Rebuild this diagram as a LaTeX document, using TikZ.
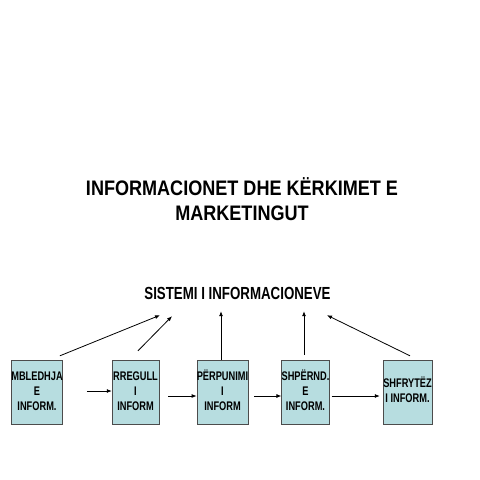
\documentclass[tikz,border=0pt]{standalone}
\usepackage{fontspec}
\setmainfont{Liberation Sans}
\usetikzlibrary{arrows.meta}
\newcommand{\narrowtext}[2]{\scalebox{#1}[1]{\begin{tabular}{@{}c@{}}#2\end{tabular}}}
\begin{document}
\begin{tikzpicture}[x=1pt, y=-1pt,
  infobox/.style = {draw = black!70, fill = boxcol, minimum width = 47pt, minimum height = 64pt, inner sep = 0pt, font = \fontsize{12.5}{15}\selectfont\bfseries},
  arr/.style = {-{Latex[length=5pt, width=4pt]}, line width = 0.8pt, black}]
\definecolor{boxcol}{HTML}{B7DDE0}
\useasboundingbox[fill = white] (0, 0) rectangle (480, 480);
\node[font = \fontsize{21}{25}\selectfont\bfseries] (title) at (242, 203) {\narrowtext{0.86}{INFORMACIONET DHE KËRKIMET E\\MARKETINGUT}};
\node[inner sep = 0pt, font = \fontsize{17.5}{20}\selectfont\bfseries] (sis) at (237.5, 295) {\narrowtext{0.76}{SISTEMI I INFORMACIONEVE}};
\node[infobox, minimum width = 48pt] (b1) at (37, 392) {\narrowtext{0.74}{MBLEDHJA\\E\\INFORM.}};
\node[infobox] (b2) at (135.5, 392) {\narrowtext{0.74}{RREGULL\\I\\INFORM}};
\node[infobox] (b3) at (222.5, 392) {\narrowtext{0.74}{PËRPUNIMI\\I\\INFORM}};
\node[infobox] (b4) at (305.5, 392) {\narrowtext{0.74}{SHPËRND.\\E\\INFORM.}};
\node[infobox, minimum width = 49pt] (b5) at (407.5, 392) {\narrowtext{0.74}{SHFRYTËZ\\I INFORM.}};
\draw[arr, shorten < = 24pt] ([yshift = 1pt]b1.east) -- ([yshift = 1pt]b2.west);
\draw[arr, shorten < = 9pt] ([yshift = -4pt]b2.east) -- ([yshift = -4pt]b3.west);
\draw[arr, shorten < = 6pt] ([yshift = -4pt]b3.east) -- ([yshift = -4pt]b4.west);
\draw[arr, shorten < = 2pt, shorten > = 3pt] ([yshift = -4pt]b4.east) -- ([yshift = -4pt]b5.west);
\draw[arr] ([xshift = -3pt, yshift = 4pt]b1.north east) -- ([xshift = -77.5pt, yshift = -10pt]sis.south);
\draw[arr] ([xshift = 2.5pt, yshift = 9pt]b2.north) -- ([xshift = -65.5pt, yshift = -11pt]sis.south);
\draw[arr] ([xshift = -1.5pt]b3.north) -- ([xshift = -16.5pt, yshift = -6pt]sis.south);
\draw[arr] ([xshift = -1.5pt, yshift = 5pt]b4.north) -- ([xshift = 66.5pt, yshift = -6pt]sis.south);
\draw[arr] ([xshift = 2.5pt, yshift = 4pt]b5.north) -- ([xshift = 89.5pt, yshift = -10pt]sis.south);
\end{tikzpicture}
\end{document}
